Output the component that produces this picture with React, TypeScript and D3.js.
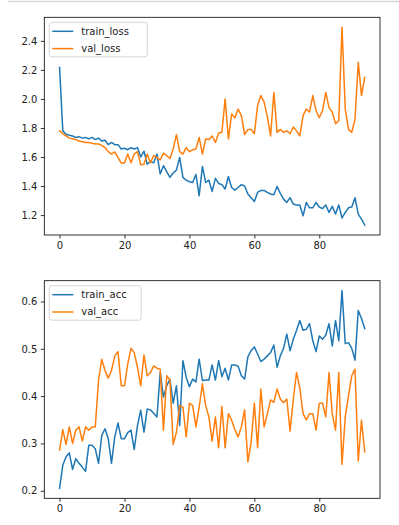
import React, { useRef, useEffect } from 'react';
import * as d3 from 'd3';

// epochs 0..94
const epochs: number[] = d3.range(95);

const trainLoss: number[] = [
  2.218, 1.78, 1.757, 1.75, 1.745, 1.735, 1.74, 1.73, 1.735, 1.725,
  1.735, 1.72, 1.73, 1.71, 1.715, 1.685, 1.7, 1.685, 1.685, 1.655,
  1.66, 1.65, 1.665, 1.655, 1.665, 1.6, 1.64, 1.55, 1.57, 1.56,
  1.62, 1.483, 1.54, 1.5, 1.46, 1.49, 1.51, 1.597, 1.46, 1.44,
  1.43, 1.425, 1.48, 1.333, 1.535, 1.425, 1.44, 1.363, 1.453, 1.418,
  1.41, 1.38, 1.466, 1.39, 1.372, 1.39, 1.41, 1.4, 1.345, 1.32,
  1.294, 1.356, 1.37, 1.37, 1.356, 1.345, 1.34, 1.397, 1.35, 1.31,
  1.287, 1.32, 1.276, 1.27, 1.27, 1.195, 1.287, 1.25, 1.25, 1.287,
  1.256, 1.245, 1.27, 1.218, 1.26, 1.207, 1.27, 1.18, 1.218, 1.25,
  1.256, 1.32, 1.207, 1.172, 1.131,
];

const valLoss: number[] = [
  1.78, 1.76, 1.745, 1.73, 1.725, 1.72, 1.71, 1.705, 1.7, 1.7,
  1.695, 1.69, 1.69, 1.68, 1.665, 1.637, 1.62, 1.635, 1.597, 1.558,
  1.558, 1.62, 1.56, 1.62, 1.637, 1.547, 1.55, 1.62, 1.56, 1.61,
  1.597, 1.58, 1.627, 1.61, 1.59, 1.655, 1.754, 1.637, 1.62, 1.665,
  1.637, 1.65, 1.655, 1.735, 1.62, 1.724, 1.72, 1.745, 1.7, 1.765,
  1.77, 2.0, 1.724, 1.897, 1.87, 1.93, 1.885, 1.755, 1.79, 1.79,
  1.76, 1.954, 2.023, 1.98, 1.877, 1.745, 2.045, 1.77, 1.79, 1.77,
  1.78, 1.76, 1.806, 1.78, 1.745, 1.885, 1.93, 1.91, 2.023, 1.92,
  1.87, 1.92, 2.045, 1.94, 1.91, 1.83, 1.85, 2.494, 1.93, 1.79,
  1.77, 1.86, 2.253, 2.023, 2.149,
];

const trainAcc: number[] = [
  0.205, 0.254, 0.272, 0.28, 0.245, 0.268, 0.258, 0.25, 0.241, 0.296,
  0.296, 0.289, 0.258, 0.317, 0.331, 0.31, 0.258, 0.314, 0.343, 0.31,
  0.31, 0.323, 0.328, 0.287, 0.338, 0.37, 0.324, 0.373, 0.371, 0.364,
  0.356, 0.45, 0.398, 0.422, 0.436, 0.385, 0.422, 0.338, 0.475, 0.44,
  0.42, 0.436, 0.43, 0.478, 0.433, 0.434, 0.434, 0.466, 0.434, 0.475,
  0.441, 0.459, 0.434, 0.466, 0.466, 0.463, 0.443, 0.436, 0.483, 0.496,
  0.504, 0.489, 0.473, 0.478, 0.485, 0.492, 0.508, 0.461, 0.485, 0.501,
  0.531, 0.496, 0.52, 0.539, 0.56, 0.539, 0.541, 0.553, 0.517, 0.494,
  0.527, 0.52, 0.529, 0.553, 0.506, 0.56, 0.517, 0.623, 0.511, 0.513,
  0.501, 0.476, 0.581, 0.564, 0.543,
];

const valAcc: number[] = [
  0.286, 0.329, 0.298, 0.335, 0.3, 0.328, 0.335, 0.305, 0.335, 0.328,
  0.335, 0.335, 0.433, 0.478, 0.454, 0.438, 0.454, 0.485, 0.494, 0.422,
  0.422, 0.468, 0.501, 0.492, 0.461, 0.422, 0.487, 0.443, 0.45, 0.464,
  0.459, 0.457, 0.328, 0.443, 0.434, 0.298, 0.324, 0.38, 0.377, 0.314,
  0.385, 0.38, 0.335, 0.377, 0.426, 0.38, 0.356, 0.305, 0.356, 0.291,
  0.378, 0.291, 0.363, 0.349, 0.329, 0.314, 0.335, 0.371, 0.261, 0.303,
  0.385, 0.291, 0.415, 0.335, 0.363, 0.392, 0.387, 0.415, 0.394, 0.386,
  0.394, 0.326, 0.394, 0.45, 0.417, 0.363, 0.35, 0.363, 0.363, 0.328,
  0.385, 0.385, 0.356, 0.45, 0.363, 0.328, 0.45, 0.256, 0.356, 0.401,
  0.443, 0.457, 0.263, 0.349, 0.282,
];

const xTicks = [0, 20, 40, 60, 80];
const lossTicks = [1.2, 1.4, 1.6, 1.8, 2.0, 2.2, 2.4];
const accTicks = [0.2, 0.3, 0.4, 0.5, 0.6];

const BLUE = '#1f77b4';
const ORANGE = '#ff7f0e';
const FONT = 'DejaVu Sans, sans-serif';

interface Panel {
  top: number;
  bottom: number;
  series: { name: string; values: number[]; color: string }[];
  yTicks: number[];
  yFormat: (v: number) => string;
}

const panels: Panel[] = [
  {
    top: 17.3,
    bottom: 235,
    series: [
      { name: 'train_loss', values: trainLoss, color: BLUE },
      { name: 'val_loss', values: valLoss, color: ORANGE },
    ],
    yTicks: lossTicks,
    yFormat: d3.format('.1f'),
  },
  {
    top: 280.7,
    bottom: 498.3,
    series: [
      { name: 'train_acc', values: trainAcc, color: BLUE },
      { name: 'val_acc', values: valAcc, color: ORANGE },
    ],
    yTicks: accTicks,
    yFormat: d3.format('.1f'),
  },
];

const App: React.FC = () => {
  const svgRef = useRef<SVGSVGElement>(null);

  useEffect(() => {
    if (!svgRef.current) return;
    const svg = d3.select(svgRef.current);
    svg.selectAll('*').remove();

    // faint rule across the top of the page
    svg.append('line')
      .attr('x1', 8).attr('x2', 399)
      .attr('y1', 1.5).attr('y2', 1.5)
      .attr('stroke', '#d6d6d6')
      .attr('stroke-width', 1.5);

    const left = 44.3;
    const right = 380;

    panels.forEach((p) => {
      const all = p.series.flatMap(s => s.values);
      const lo = d3.min(all)!;
      const hi = d3.max(all)!;
      const pad = (hi - lo) * 0.05;
      const xPad = (epochs.length - 1) * 0.05;

      const x = d3.scaleLinear()
        .domain([-xPad, epochs.length - 1 + xPad])
        .range([left, right]);
      const y = d3.scaleLinear()
        .domain([lo - pad, hi + pad])
        .range([p.bottom, p.top]);

      const g = svg.append('g');

      const line = d3.line<number>()
        .x((_, i) => x(epochs[i]))
        .y(d => y(d));

      p.series.forEach(s => {
        g.append('path')
          .datum(s.values)
          .attr('fill', 'none')
          .attr('stroke', s.color)
          .attr('stroke-width', 1.5)
          .attr('stroke-linejoin', 'round')
          .attr('stroke-linecap', 'square')
          .attr('d', line);
      });

      // axes
      const xAxis = g.append('g')
        .attr('transform', `translate(0,${p.bottom})`)
        .call(d3.axisBottom(x).tickValues(xTicks).tickSize(3.5).tickPadding(3.5).tickFormat(d3.format('d')));
      const yAxis = g.append('g')
        .attr('transform', `translate(${left},0)`)
        .call(d3.axisLeft(y).tickValues(p.yTicks).tickSize(3.5).tickPadding(3.5).tickFormat(v => p.yFormat(v as number)));

      [xAxis, yAxis].forEach(a => {
        a.select('.domain').remove();
        a.selectAll('line').attr('stroke', '#000').attr('stroke-width', 0.8);
        a.selectAll('text')
          .attr('fill', '#222')
          .style('font-family', FONT)
          .style('font-size', '10px');
      });

      // frame
      g.append('rect')
        .attr('x', left)
        .attr('y', p.top)
        .attr('width', right - left)
        .attr('height', p.bottom - p.top)
        .attr('fill', 'none')
        .attr('stroke', '#000')
        .attr('stroke-width', 0.8);

      // legend
      const lg = g.append('g').attr('transform', `translate(${left + 5},${p.top + 5})`);
      const textW = d3.max(p.series, s => s.name.length * 6.1)!;
      lg.append('rect')
        .attr('width', 37 + textW)
        .attr('height', 34.5)
        .attr('rx', 2.5)
        .attr('fill', 'white')
        .attr('fill-opacity', 0.8)
        .attr('stroke', '#cccccc')
        .attr('stroke-width', 0.8);
      p.series.forEach((s, i) => {
        const cy = 9 + i * 17.3;
        lg.append('line')
          .attr('x1', 3).attr('x2', 24)
          .attr('y1', cy).attr('y2', cy)
          .attr('stroke', s.color)
          .attr('stroke-width', 1.5);
        lg.append('text')
          .attr('x', 32)
          .attr('y', cy)
          .attr('dy', '0.35em')
          .attr('fill', '#222')
          .style('font-family', FONT)
          .style('font-size', '10px')
          .text(s.name);
      });
    });
  }, []);

  return (
    <div style={{ position: 'absolute', left: 0, top: 0 }}>
      <svg ref={svgRef} width={399} height={525} style={{ display: 'block', background: 'white' }} />
    </div>
  );
};

export default App;
